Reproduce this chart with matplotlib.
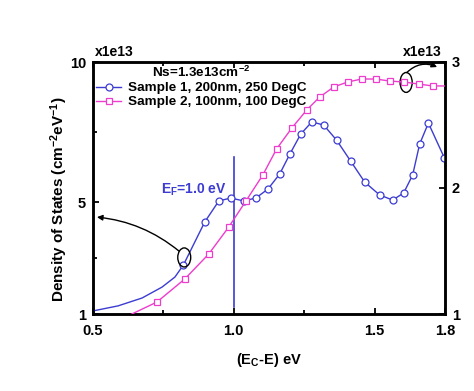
import matplotlib
matplotlib.use("Agg")
import matplotlib.pyplot as plt
from matplotlib.patches import Ellipse

plt.rcParams['font.family'] = ['Liberation Sans', 'DejaVu Sans']
plt.rcParams['font.weight'] = 'bold'
plt.rcParams['mathtext.fontset'] = 'custom'
plt.rcParams['mathtext.rm'] = 'Liberation Sans:bold'
plt.rcParams['mathtext.bf'] = 'Liberation Sans:bold'
plt.rcParams['mathtext.it'] = 'Liberation Sans:bold'

# ---- data ----
# Sample 1 (left axis, x1e13): unmarked head then marked points
s1_head_x = [0.500, 0.589, 0.674, 0.745, 0.791]
s1_head_y = [1.11, 1.29, 1.57, 1.96, 2.32]
s1_x = [0.821, 0.897, 0.947, 0.989, 1.035, 1.078, 1.121, 1.163, 1.199, 1.238,
        1.277, 1.319, 1.365, 1.415, 1.465, 1.518, 1.564, 1.603, 1.635, 1.660,
        1.691, 1.748]
s1_y = [2.75, 4.29, 5.04, 5.14, 5.04, 5.14, 5.46, 6.00, 6.71, 7.43,
        7.86, 7.75, 7.21, 6.46, 5.71, 5.25, 5.07, 5.32, 5.96, 7.07,
        7.82, 6.57]

# Sample 2 (right axis, x1e13)
s2_head_x = [0.638]
s2_head_y = [1.00]
s2_x = [0.727, 0.826, 0.911, 0.982, 1.043, 1.103, 1.152, 1.206, 1.259, 1.305,
        1.355, 1.404, 1.454, 1.504, 1.553, 1.606, 1.656, 1.706]
s2_y = [1.095, 1.278, 1.476, 1.690, 1.897, 2.103, 2.310, 2.476, 2.619, 2.722,
        2.802, 2.841, 2.865, 2.865, 2.849, 2.841, 2.825, 2.810]
s2_tail_x = [1.748]
s2_tail_y = [2.81]

ef_x = 1.0
ef_y = [1.25, 6.6]

x_ticks = [0.5, 1.0, 1.5, 1.75]
x_ticklabels = ['0.5', '1.0', '1.5', '1.8']
x_minor = [0.75, 1.25]
yl_ticks = [1, 5, 10]
yl_minor = [3, 7.5]
yr_ticks = [1, 2, 3]

blue = '#3c3cd2'
pink = '#ee3ccc'

fig = plt.figure(figsize=(4.74, 3.91), dpi=100)
ax = fig.add_axes([93/474, 77/391, 352/474, 252/391])
ax2 = ax.twinx()

# Sample 1
ax.plot(s1_head_x + s1_x, s1_head_y + s1_y, color=blue, lw=1.0,
        marker='o', markersize=5, markerfacecolor='white', markeredgecolor=blue,
        markeredgewidth=0.9, markevery=list(range(len(s1_head_x), len(s1_head_x) + len(s1_x))),
        label='Sample 1, 200nm, 250 DegC', zorder=3)
# Sample 2
ax2.plot(s2_head_x + s2_x + s2_tail_x, s2_head_y + s2_y + s2_tail_y, color=pink, lw=1.0,
         marker='s', markersize=4.5, markerfacecolor='white', markeredgecolor=pink,
         markeredgewidth=0.9, markevery=list(range(len(s2_head_x), len(s2_head_x) + len(s2_x))),
         label='Sample 2, 100nm, 100 DegC', zorder=3)

# Fermi level line
ax.plot([ef_x, ef_x], ef_y, color=blue, lw=1.2, zorder=2)
ax.text(0.741, 5.45, r'E$_{\mathbf{F}}$=1.0 eV', color=blue, fontsize=10,
        fontweight='bold', ha='left', va='center')

ax.set_xlim(0.5, 1.75)
ax.set_ylim(1, 10)
ax2.set_ylim(1, 3)

ax.set_xticks(x_ticks)
ax.set_xticklabels(x_ticklabels)
ax.set_xticks(x_minor, minor=True)
ax.set_yticks(yl_ticks)
ax.set_yticklabels([str(t) for t in yl_ticks])
ax.set_yticks(yl_minor, minor=True)
ax2.set_yticks(yr_ticks)
ax2.set_yticklabels([str(t) for t in yr_ticks])

for a in (ax, ax2):
    for s in a.spines.values():
        s.set_linewidth(1.8)
ax.tick_params(which='both', direction='in', top=True, labelsize=10.5, width=1.3)
ax.tick_params(axis='x', which='both', pad=7)
ax.tick_params(axis='y', which='both', pad=5)
ax.tick_params(which='major', length=4)
ax.tick_params(which='minor', length=3)
ax2.tick_params(which='both', direction='in', labelsize=10.5, width=1.3, length=4, pad=5)
for lab in ax.get_xticklabels() + ax.get_yticklabels() + ax2.get_yticklabels():
    lab.set_fontweight('bold')

ax.set_xlabel(r'(E$_{\mathbf{C}}$-E) eV', fontsize=10.5, fontweight='bold')
ax.xaxis.set_label_coords(0.5, -0.145)
ax.set_ylabel(r'Density of States (cm$^{\mathbf{-2}}$eV$^{\mathbf{-1}}$)', fontsize=11,
              fontweight='bold')
ax.yaxis.set_label_coords(-0.065, 0.455)

ax.text(0.005, 1.04, 'x1e13', transform=ax.transAxes, fontsize=10, fontweight='bold',
        ha='left', va='center')
ax.text(0.991, 1.04, 'x1e13', transform=ax.transAxes, fontsize=10, fontweight='bold',
        ha='right', va='center')

# legend
h1, l1 = ax.get_legend_handles_labels()
h2, l2 = ax2.get_legend_handles_labels()
leg = ax2.legend(h1 + h2, l1 + l2, loc='upper left', bbox_to_anchor=(-0.015, 1.02),
                 frameon=False, fontsize=9.7, title=r'Ns=1.3e13cm$^{\mathbf{-2}}$',
                 title_fontsize=9.7, handlelength=1.9, handletextpad=0.5,
                 labelspacing=0.12, borderaxespad=0.2)
leg.get_title().set_fontweight('bold')
for t in leg.get_texts():
    t.set_fontweight('bold')

# annotations: ellipses and curved arrows
ax.add_patch(Ellipse((0.824, 3.02), 0.046, 0.68, fill=False, edgecolor='black', lw=1.0, zorder=4))
ax.annotate('', xy=(0.514, 4.46), xytext=(0.805, 3.25),
            arrowprops=dict(arrowstyle='-|>', color='black', lw=1.0,
                            connectionstyle='arc3,rad=0.15', mutation_scale=8,
                            shrinkA=0, shrinkB=0), zorder=4)
ax.add_patch(Ellipse((1.612, 9.27), 0.043, 0.71, fill=False, edgecolor='black', lw=1.0, zorder=4))
ax.annotate('', xy=(1.722, 9.82), xytext=(1.614, 9.62),
            arrowprops=dict(arrowstyle='-|>', color='black', lw=1.0,
                            connectionstyle='arc3,rad=-0.33', mutation_scale=8,
                            shrinkA=0, shrinkB=0), zorder=4)

fig.savefig('out.png', dpi=100)
